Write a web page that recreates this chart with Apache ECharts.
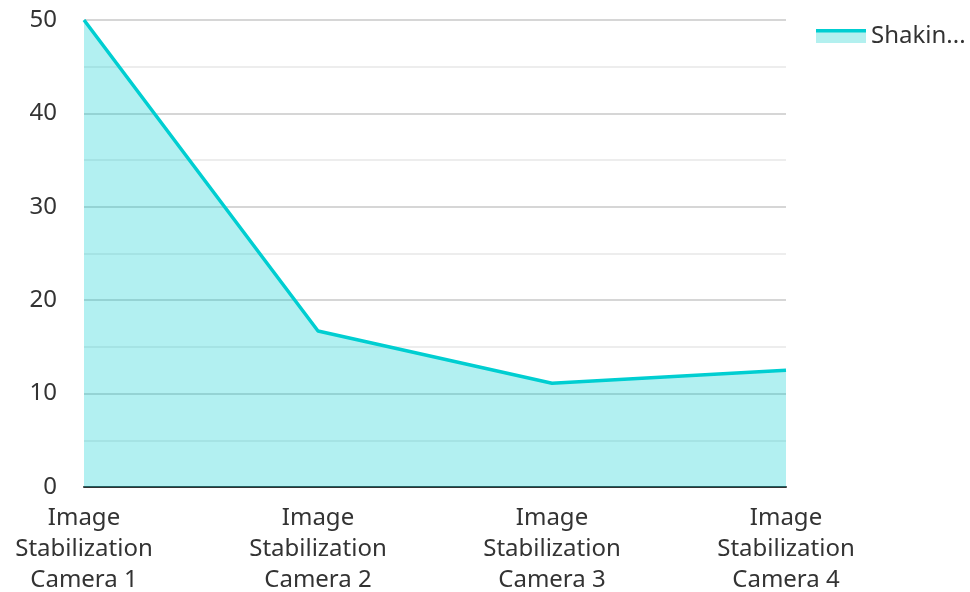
<!DOCTYPE html>
<html><head><meta charset="utf-8">
<script src="https://cdn.jsdelivr.net/npm/echarts@6/dist/echarts.min.js"></script>
<style>html,body{margin:0;padding:0;background:#fff}#c{width:970px;height:592px}</style>
</head><body><div id="c"></div>
<script>
const categories = ["Image\nStabilization\nCamera 1","Image\nStabilization\nCamera 2","Image\nStabilization\nCamera 3","Image\nStabilization\nCamera 4"];
const seriesName = "Shaking Reduction (%)";
const values = [50, 16.7, 11.1, 12.5];
const chart = echarts.init(document.getElementById('c'));
const font = "'Noto Sans', 'Open Sans', sans-serif";
const iconSvg = "<svg xmlns='http://www.w3.org/2000/svg' width='50' height='14'><rect x='0' y='3' width='50' height='11' fill='%23b3f0ef'/><rect x='0' y='0' width='50' height='3.5' fill='%2300CED1'/></svg>";
chart.setOption({
  animation: false,
  textStyle: {fontFamily: font},
  grid: {left: 84, right: 184, top: 20, bottom: 105, containLabel: false, outerBoundsMode: 'none'},
  legend: {
    left: 811, top: 19, itemWidth: 50, itemHeight: 14, itemGap: 10,
    icon: 'image://data:image/svg+xml;utf8,' + iconSvg,
    textStyle: {fontSize: 24, color: '#333', fontFamily: font, width: 100, overflow: 'truncate', ellipsis: '...'},
    data: [seriesName]
  },
  xAxis: {
    type: 'category', boundaryGap: false, data: categories,
    axisLine: {lineStyle: {color: '#333', width: 2}},
    axisTick: {show: false},
    axisLabel: {fontSize: 24, color: '#333', lineHeight: 31, margin: 16, interval: 0, fontFamily: font}
  },
  yAxis: {
    type: 'value', min: 0, max: 50, interval: 10,
    axisLine: {show: false}, axisTick: {show: false},
    axisLabel: {fontSize: 24, color: '#333', margin: 27, fontFamily: font},
    splitLine: {lineStyle: {color: '#c8c8c8', width: 1.5}},
    minorTick: {show: false, splitNumber: 2},
    minorSplitLine: {show: true, lineStyle: {color: '#e8e8e8', width: 1.5}}
  },
  series: [{
    name: seriesName, type: 'line', data: values, showSymbol: false, symbol: 'none',
    lineStyle: {color: '#00CED1', width: 3.5},
    itemStyle: {color: '#00CED1'},
    areaStyle: {color: '#00CED1', opacity: 0.3}
  }]
});
</script></body></html>
